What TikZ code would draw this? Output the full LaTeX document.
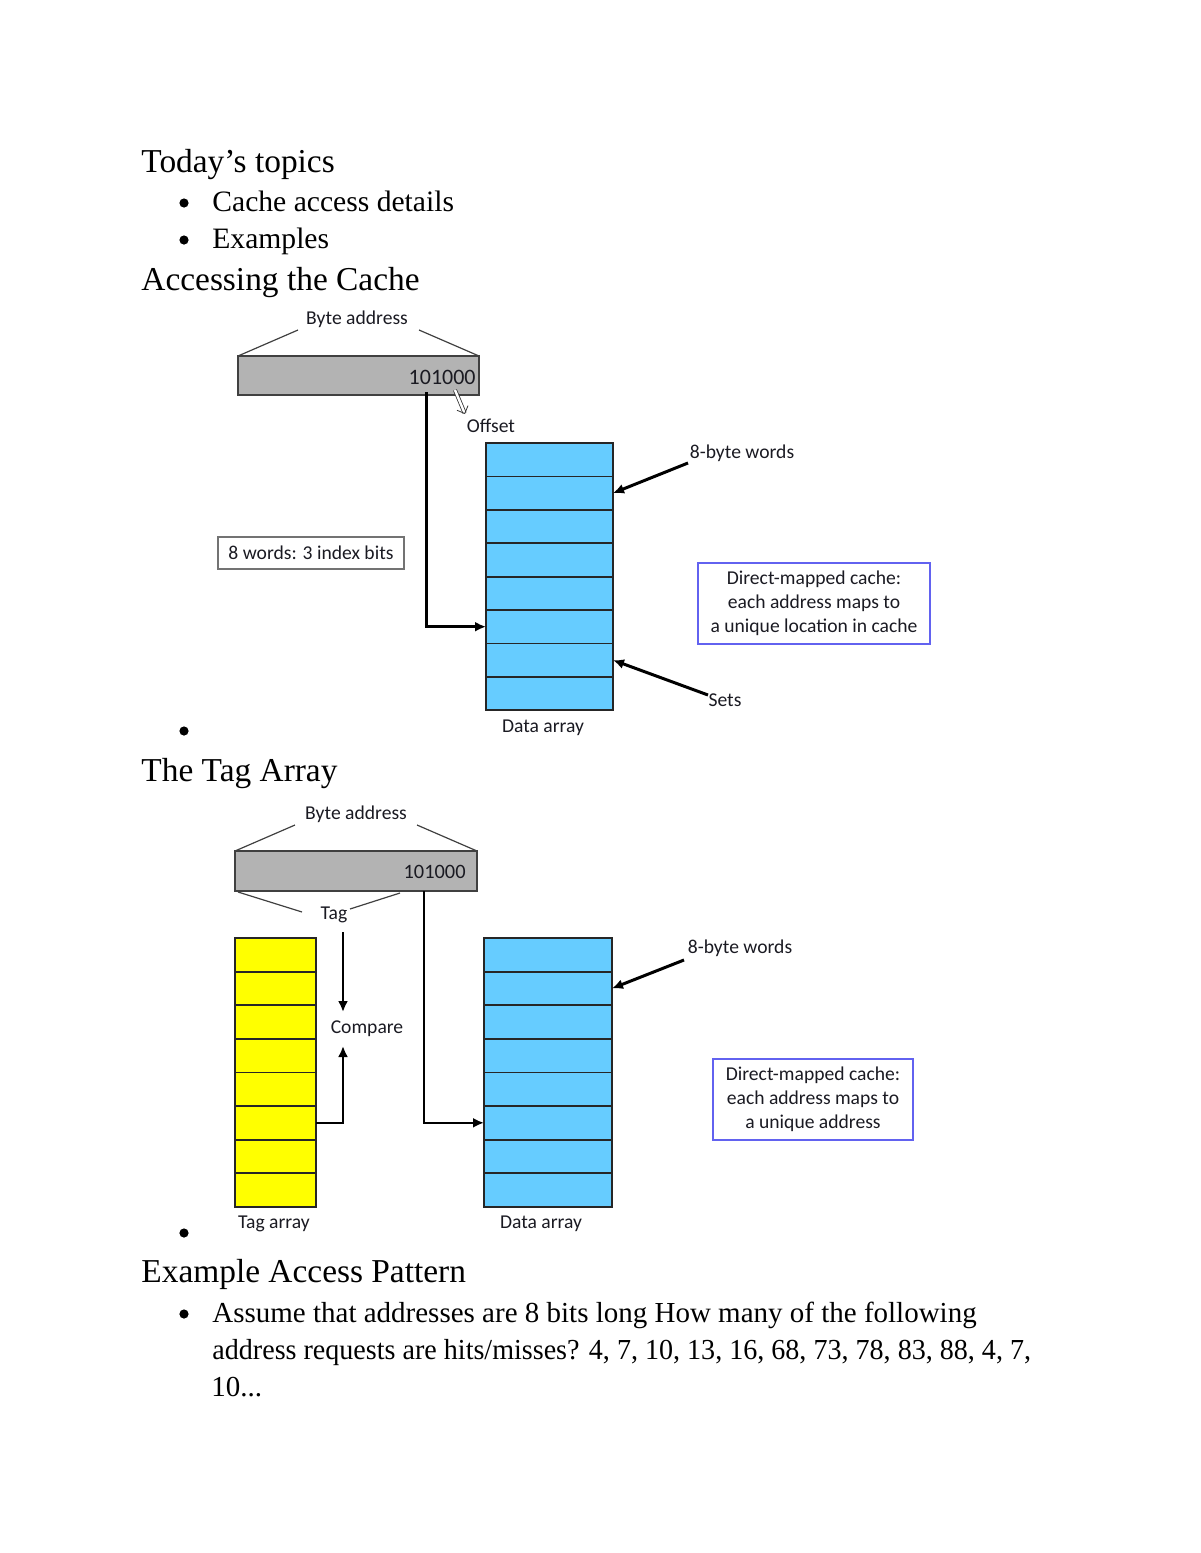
\documentclass[tikz,border=0pt]{standalone}
\usepackage{fontspec}
\setmainfont{Liberation Serif}
\newfontfamily\dfont{Carlito}
\usetikzlibrary{arrows.meta}
\definecolor{cellblue}{HTML}{66CCFF}
\definecolor{cellyellow}{HTML}{FFFF00}
\definecolor{bargray}{HTML}{B3B3B3}
\definecolor{boxblue}{HTML}{6262F0}
\definecolor{lbltext}{HTML}{1A1A22}
\begin{document}
\begin{tikzpicture}[x=0.5pt,y=-0.5pt,
  heading/.style={anchor=base west, inner sep=0, font=\fontsize{16.7}{20}\selectfont},
  body/.style={anchor=base west, inner sep=0, font=\fontsize{14.5}{17}\selectfont},
  topbody/.style={anchor=base west, inner sep=0, font=\fontsize{14.8}{17}\selectfont},
  lbl/.style={inner sep=0, text=lbltext, font=\dfont\fontsize{9.8}{12}\selectfont},
  bignum/.style={inner sep=0, anchor=east, text=lbltext, font=\dfont\fontsize{11}{13}\selectfont},
  addrbar/.style={draw=black!75, line width=0.8pt, fill=bargray, inner sep=0, outer sep=0},
  datacell/.style={draw=black!85, line width=0.9pt, fill=cellblue, minimum width=63.5pt, minimum height=16.7pt, inner sep=0, outer sep=0},
  datacellb/.style={draw=black!85, line width=0.9pt, fill=cellblue, minimum width=64pt, minimum height=16.8pt, inner sep=0, outer sep=0},
  tagcell/.style={draw=black!85, line width=0.9pt, fill=cellyellow, minimum width=40.5pt, minimum height=16.8pt, inner sep=0, outer sep=0},
  notebox/.style={draw=boxblue, line width=0.9pt, align=center, inner sep=0, text=lbltext, font=\dfont\fontsize{9.8}{12}\selectfont},
  greybox/.style={draw=black!55, line width=0.8pt, inner sep=0, text=lbltext, font=\dfont\fontsize{9.8}{12}\selectfont},
  brace/.style={draw=black!75, line width=0.6pt},
  arrthick/.style={draw=black, line width=1.5pt, -{Latex[length=5.5pt,width=5pt]}},
  arrmid/.style={draw=black, line width=1.3pt, -{Latex[length=5.5pt,width=5pt]}},
  bullet/.style={circle, fill=black, inner sep=0, minimum size=4.6pt}
]
\useasboundingbox (0,0) rectangle (1200,1553);

% ---------- text ----------
\node[heading] (h1) at (141,172) {Today’s topics};
\node[bullet] (b1) at (184,203) {};
\node[topbody] (t1) at (212,211) {Cache access details};
\node[bullet] (b2) at (184,240) {};
\node[topbody] (t2) at (212,248) {Examples};
\node[heading] (h2) at (141,290) {Accessing the Cache};

% ---------- diagram 1 ----------
\node[lbl] (ba1) at (357,319) {Byte address};
\node[addrbar, minimum width=120.5pt, minimum height=19.5pt] (addr1) at (358.5,375.5) {};
\node[bignum] (num1) at (476,377) {101000};
\coordinate (ba1l) at (298,330);
\coordinate (ba1r) at (419,330);
\draw[brace] (addr1.north west) -- (ba1l);
\draw[brace] (addr1.north east) -- (ba1r);

\foreach \i in {1,...,8} {
  \node[datacell] (da\i) at (549.5,{443+(\i-0.5)*33.4}) {};
}
\node[lbl] (off1) at (491,426) {Offset};
\coordinate (offs) at (455,390);
\coordinate (offe) at (465,414);
\draw[draw=black!80, line width=0.4pt, double, double distance=1.2pt, -{Straight Barb[length=3pt]}] (offs) -- (offe);

\coordinate (idx1) at (426,392);
\draw[arrthick] (idx1) |- (da6.west);

\node[greybox, minimum width=93pt, minimum height=16pt] (iw1) at (311,553) {8 words: 3 index bits};

\node[lbl] (bw1) at (742,453) {8-byte words};
\coordinate (bw1s) at (688,463);
\draw[arrthick] (bw1s) -- (da2.east);

\node[notebox, minimum width=116pt, minimum height=40.5pt] (dm1) at (814,603.5) {Direct-mapped cache:\\each address maps to\\a unique location in cache};

\node[lbl] (sets1) at (725,700) {Sets};
\coordinate (sets1s) at (708,695);
\draw[arrthick] (sets1s) -- (da7.east);

\node[lbl] (dal1) at (543,728) {Data array};
\node[bullet] (b3) at (184,731) {};

\node[heading] (h3) at (141,781) {The Tag Array};

% ---------- diagram 2 ----------
\node[lbl] (ba2) at (356,814) {Byte address};
\node[addrbar, minimum width=121pt, minimum height=20pt] (addr2) at (356,871) {};
\node[bignum, font=\dfont\fontsize{10.2}{12}\selectfont] (num2) at (466,872) {101000};
\coordinate (ba2l) at (295,825);
\coordinate (ba2r) at (417,825);
\draw[brace] (addr2.north west) -- (ba2l);
\draw[brace] (addr2.north east) -- (ba2r);

\node[lbl] (tag2) at (334,915) {Tag};
\coordinate (tg2a) at (238,892);
\coordinate (tg2b) at (302,912);
\coordinate (tg2c) at (400,893);
\coordinate (tg2d) at (350,909);
\draw[brace] (tg2a) -- (tg2b);
\draw[brace] (tg2c) -- (tg2d);

\foreach \i in {1,...,8} {
  \node[tagcell] (ta\i) at (275.5,{938+(\i-0.5)*33.6}) {};
  \node[datacellb] (db\i) at (548,{938+(\i-0.5)*33.6}) {};
}

\node[lbl] (cmp2) at (367,1029) {Compare};
\coordinate (cmpa) at (343,932);
\coordinate (cmpb) at (343,1012);
\coordinate (cmpc) at (343,1046);
\draw[arrmid] (cmpa) -- (cmpb);
\draw[arrmid] (ta6.east) -| (cmpc);

\coordinate (idx2) at (424,891);
\draw[arrmid] (idx2) |- (db6.west);

\node[lbl] (bw2) at (740,948) {8-byte words};
\coordinate (bw2s) at (684,960);
\draw[arrthick] (bw2s) -- (db2.east);

\node[notebox, minimum width=100pt, minimum height=40.5pt] (dm2) at (813,1099.5) {Direct-mapped cache:\\each address maps to\\a unique address};

\node[lbl] (tal2) at (274,1224) {Tag array};
\node[lbl] (dal2) at (541,1224) {Data array};
\node[bullet] (b4) at (184,1233) {};

% ---------- example ----------
\node[heading] (h4) at (141,1282) {Example Access Pattern};
\node[bullet] (b5) at (184,1314) {};
\node[body] (p1) at (212,1322) {Assume that addresses are 8 bits long How many of the following};
\node[body] (p2) at (212,1359) {\scalebox{0.968}[1]{address requests are hits/misses? 4, 7, 10, 13, 16, 68, 73, 78, 83, 88, 4, 7,}};
\node[body] (p3) at (211,1396) {10...};
\end{tikzpicture}
\end{document}
